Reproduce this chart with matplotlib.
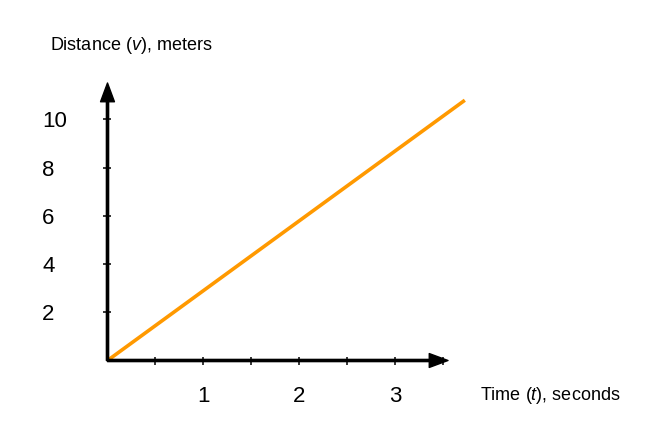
import matplotlib.pyplot as plt
import matplotlib

matplotlib.rcParams['font.family'] = ['Liberation Sans', 'DejaVu Sans']
matplotlib.rcParams['mathtext.fontset'] = 'custom'
matplotlib.rcParams['mathtext.rm'] = 'Liberation Sans'
matplotlib.rcParams['mathtext.it'] = 'Liberation Sans:italic'

# data
time_s = [0, 3.73]
distance_m = [0, 10.8]
x_major = [1, 2, 3]
x_minor = [0.5, 1.5, 2.5, 3.5]
y_major = [2, 4, 6, 8, 10]

W, H = 664, 432
fig = plt.figure(figsize=(W / 100, H / 100), dpi=100)

# axes: origin at pixel (107.5, 360.5), arrow tips at x=448 / y=83
x0, y0, x1, y1 = 107.5, 360.5, 448, 83
ax = fig.add_axes([x0 / W, 1 - y0 / H, (x1 - x0) / W, (y0 - y1) / H])
ax.set_xlim(0, (x1 - x0) / 95.8)
ax.set_ylim(0, (y0 - y1) / 24.1)

for s in ax.spines.values():
    s.set_visible(False)

ax.plot(time_s, distance_m, color='#ff9900', lw=2.6, clip_on=False, solid_capstyle='butt', zorder=3)

arrow = dict(facecolor='black', edgecolor='black', width=1.6, headwidth=10, headlength=13.5, shrink=0)
ax.annotate('', xy=(1, 0), xytext=(0, 0), xycoords='axes fraction', arrowprops=arrow)
ax.annotate('', xy=(0, 1), xytext=(0, 0), xycoords='axes fraction', arrowprops=arrow)

ax.set_xticks(x_major)
ax.set_xticks(x_minor, minor=True)
ax.set_yticks(y_major)
ax.tick_params(which='both', direction='inout', length=6, width=1.1, color='black')
ax.tick_params(axis='x', pad=15, labelsize=16)
ax.tick_params(axis='y', pad=44, labelsize=16)
plt.setp(ax.get_yticklabels(), ha='left')

fig.text(50 / W, 1 - 45 / H, 'Distance ($v$), meters', fontsize=13, va='center', ha='left')
fig.text(480 / W, 1 - 395 / H, 'Time ($t$), seconds', fontsize=13, va='center', ha='left')

plt.savefig('out.png', dpi=100)
plt.close()
